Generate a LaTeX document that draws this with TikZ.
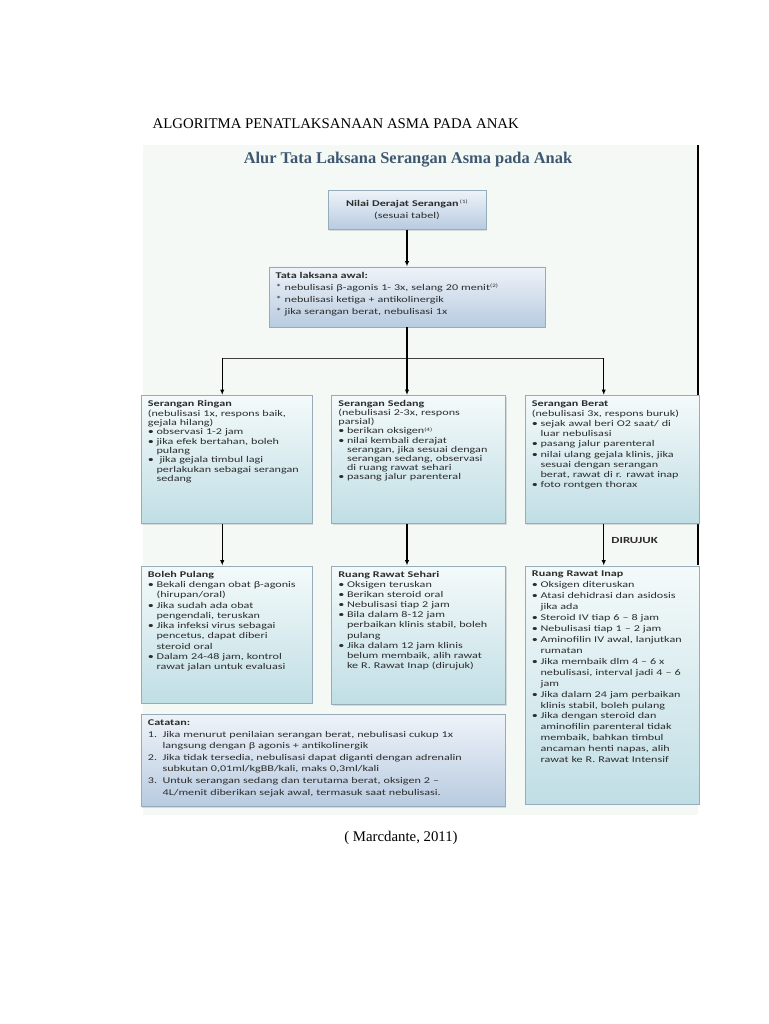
\documentclass[tikz,border=0pt]{standalone}
\usepackage{fontspec}
\setmainfont{Liberation Serif}
\newfontfamily\boxfont[FakeStretch=1.38]{Carlito}
\usetikzlibrary{positioning,shadows,arrows.meta}

\definecolor{figbg}{RGB}{244,249,246}
\definecolor{titleblue}{RGB}{62,88,112}
\definecolor{bluetop}{RGB}{238,243,249}
\definecolor{bluebot}{RGB}{184,203,224}
\definecolor{tealtop}{RGB}{244,250,250}
\definecolor{tealbot}{RGB}{192,222,229}
\definecolor{boxline}{RGB}{150,172,186}
\definecolor{boxtext}{RGB}{45,45,45}

\newcommand{\bul}{\makebox[6.5pt][l]{•}}
\newcommand{\ind}{\hspace*{6.5pt}}
\newcommand{\num}[1]{\makebox[11pt][l]{#1}}
\newcommand{\numind}{\hspace*{11pt}}
\newcommand{\refmark}[1]{\raisebox{0.7ex}{\fontsize{3.8pt}{4pt}\selectfont(#1)}}
\newcommand{\topfill}[2]{\parbox[c][#1][t]{\linewidth}{\raggedright #2}}

\tikzset{
  flowbox/.style={draw=boxline, line width=0.4pt, align=left,
    inner xsep=5pt, inner ysep=4pt, text=boxtext,
    drop shadow={opacity=0.25, shadow xshift=0.8pt, shadow yshift=-1pt}},
  bluebox/.style={flowbox, top color=bluetop, bottom color=bluebot},
  tealbox/.style={flowbox, top color=tealtop, bottom color=tealbot},
  leadskip/.style={font=\boxfont\fontsize{6.6pt}{#1}\selectfont},
  flowarrow/.style={-{Latex[length=4pt,width=3.2pt]}, line width=0.9pt},
}

\begin{document}
\begin{tikzpicture}[x=1pt,y=1pt]
\useasboundingbox (0,0) rectangle (576,-768);
\fill[white] (0,0) rectangle (576,-768);
\fill[figbg] (107.25,-108.75) rectangle (523.5,-611.25);
\draw[line width=1.5pt] (523.5,-108.75) -- (523.5,-600);

\node[anchor=base west, font=\fontsize{11.1pt}{13pt}\selectfont] (heading) at (111,-96)
  {ALGORITMA PENATLAKSANAAN ASMA PADA ANAK};
\node[font=\bfseries\fontsize{12.3pt}{14pt}\selectfont, text=titleblue] (alur) at (306,-120)
  {Alur Tata Laksana Serangan Asma pada Anak};

% top of the flow
\node[bluebox, align=center, text width=108.5pt, minimum height=29.25pt, leadskip=9pt,
  anchor=north] (derajat) at (305.25,-142.5)
  {\textbf{Nilai Derajat Serangan}\,\refmark{1}\\(sesuai tabel)};
\node[bluebox, text width=197pt, leadskip=9pt, below=27.75pt of derajat] (awal)
  {\topfill{37pt}{\textbf{Tata laksana awal:}\\
  {*} nebulisasi β-agonis 1- 3x, selang 20 menit\refmark{2}\\
  {*} nebulisasi ketiga + antikolinergik\\
  {*} jika serangan berat, nebulisasi 1x}};

% three grades
\node[tealbox, text width=118.25pt, leadskip=7pt, anchor=north west] (ringan) at (105.75,-296.25)
  {\topfill{88pt}{\textbf{Serangan Ringan}\\
  (nebulisasi 1x, respons baik,\\
  gejala hilang)\\
  \bul observasi 1-2 jam\\
  \bul jika efek bertahan, boleh\\
  \ind pulang\\
  \bul\ jika gejala timbul lagi\\
  \ind perlakukan sebagai serangan\\
  \ind sedang}};
\node[tealbox, text width=120.5pt, leadskip=6.8pt, anchor=north west] (sedang) at (248.6,-296.25)
  {\topfill{88pt}{\textbf{Serangan Sedang}\\
  (nebulisasi 2-3x, respons\\
  parsial)\\
  \bul berikan oksigen\refmark{4}\\
  \bul nilai kembali derajat\\
  \ind serangan, jika sesuai dengan\\
  \ind serangan sedang, observasi\\
  \ind di ruang rawat sehari\\
  \bul pasang jalur parenteral}};
\node[tealbox, text width=120.5pt, leadskip=7.6pt, anchor=north west] (berat) at (393.75,-296.25)
  {\topfill{88pt}{\textbf{Serangan Berat}\\
  (nebulisasi 3x, respons buruk)\\
  \bul sejak awal beri O2 saat/ di\\
  \ind luar nebulisasi\\
  \bul pasang jalur parenteral\\
  \bul nilai ulang gejala klinis, jika\\
  \ind sesuai dengan serangan\\
  \ind berat, rawat di r. rawat inap\\
  \bul foto rontgen thorax}};

% where to go next
\node[tealbox, text width=118.25pt, leadskip=7.7pt, below=31.5pt of ringan] (pulang)
  {\topfill{94.75pt}{\textbf{Boleh Pulang}\\
  \bul Bekali dengan obat β-agonis\\
  \ind (hirupan/oral)\\
  \bul Jika sudah ada obat\\
  \ind pengendali, teruskan\\
  \bul Jika infeksi virus sebagai\\
  \ind pencetus, dapat diberi\\
  \ind steroid oral\\
  \bul Dalam 24-48 jam, kontrol\\
  \ind rawat jalan untuk evaluasi}};
\node[tealbox, text width=120.5pt, leadskip=7.6pt, below=31.5pt of sedang] (sehari)
  {\topfill{96pt}{\textbf{Ruang Rawat Sehari}\\
  \bul Oksigen teruskan\\
  \bul Berikan steroid oral\\
  \bul Nebulisasi tiap 2 jam\\
  \bul Bila dalam 8-12 jam\\
  \ind perbaikan klinis stabil, boleh\\
  \ind pulang\\
  \bul Jika dalam 12 jam klinis\\
  \ind belum membaik, alih rawat\\
  \ind ke R. Rawat Inap (dirujuk)}};
\node[tealbox, text width=120.5pt, leadskip=8.2pt, below=31.5pt of berat] (inap)
  {\topfill{170.5pt}{\textbf{Ruang Rawat Inap}\\
  \bul Oksigen diteruskan\\
  \bul Atasi dehidrasi dan asidosis\\
  \ind jika ada\\
  \bul Steroid IV tiap 6 – 8 jam\\
  \bul Nebulisasi tiap 1 – 2 jam\\
  \bul Aminofilin IV awal, lanjutkan\\
  \ind rumatan\\
  \bul Jika membaik dlm 4 – 6 x\\
  \ind nebulisasi, interval jadi 4 – 6\\
  \ind jam\\
  \bul Jika dalam 24 jam perbaikan\\
  \ind klinis stabil, boleh pulang\\
  \bul Jika dengan steroid dan\\
  \ind aminofilin parenteral tidak\\
  \ind membaik, bahkan timbul\\
  \ind ancaman henti napas, alih\\
  \ind rawat ke R. Rawat Intensif}};
\node[bluebox, text width=263pt, leadskip=8.7pt, below right=8.25pt and 0pt of pulang.south west] (catatan)
  {\topfill{61pt}{\textbf{Catatan:}\\
  \num{1.}Jika menurut penilaian serangan berat, nebulisasi cukup 1x\\
  \numind langsung dengan β agonis + antikolinergik\\
  \num{2.}Jika tidak tersedia, nebulisasi dapat diganti dengan adrenalin\\
  \numind subkutan 0,01ml/kgBB/kali, maks 0,3ml/kali\\
  \num{3.}Untuk serangan sedang dan terutama berat, oksigen 2 –\\
  \numind 4L/menit diberikan sejak awal, termasuk saat nebulisasi.}};

\node[font=\fontsize{11.1pt}{13pt}\selectfont] (sumber) at (300.75,-628.5) {( Marcdante, 2011)};

% connectors
\coordinate[below=23.25pt of awal] (split);
\coordinate (lcol) at ([xshift=-3.4pt]ringan.north);
\coordinate (rcol) at ([xshift=-6.4pt]berat.north);
\draw[flowarrow] (derajat) -- (awal);
\draw[line width=0.9pt] (awal.south) -- (split);
\draw[line width=0.8pt, black!75] (split -| lcol) -- (split -| rcol);
\draw[flowarrow] (split -| lcol) -- (lcol);
\draw[flowarrow] (split) -- (split |- sedang.north);
\draw[flowarrow] (split -| rcol) -- (rcol);
\draw[flowarrow] (lcol |- ringan.south) -- (lcol |- pulang.north);
\draw[flowarrow] (split |- sedang.south) -- (split |- sehari.north);
\draw[flowarrow] (rcol |- berat.south) -- (rcol |- inap.north)
  node[midway, anchor=west, xshift=2pt, yshift=3pt, text=boxtext,
    font=\boxfont\bfseries\fontsize{7pt}{8pt}\selectfont] (dirujuk) {DIRUJUK};
\end{tikzpicture}
\end{document}
